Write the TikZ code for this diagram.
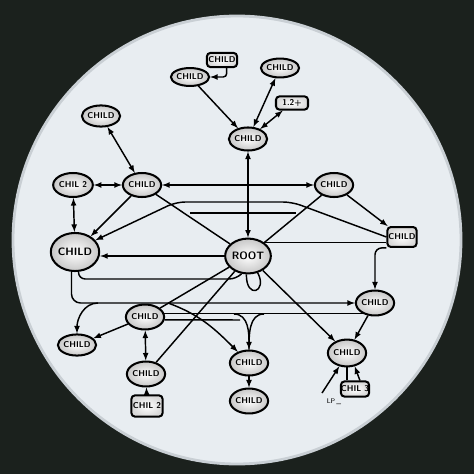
\documentclass[tikz,border=0pt]{standalone}
\usetikzlibrary{shapes.geometric}
\usetikzlibrary{arrows}
\pgfdeclarelayer{background}
\pgfdeclarelayer{edgelayer}
\pgfdeclarelayer{nodelayer}
\pgfsetlayers{background,edgelayer,nodelayer,main}
\definecolor{backdrop}{HTML}{1B211D}
\definecolor{plate}{HTML}{E8EDF1}
\definecolor{platerim}{HTML}{C9CFD4}
\newcommand{\childfont}{\fontsize{7.5}{9}\sffamily\bfseries}
\newcommand{\rootfont}{\fontsize{9.5}{11}\sffamily\bfseries}
\tikzstyle{none}=[inner sep=0pt]
\tikzstyle{state}=[ellipse,draw=black,line width=1.8pt,inner color=white,outer color=black!22,inner sep=0pt,minimum width=1.09cm,minimum height=0.78cm,font=\childfont]
\tikzstyle{rootstate}=[state,minimum width=1.34cm,minimum height=1.09cm,font=\rootfont]
\tikzstyle{box}=[rectangle,rounded corners=3pt,draw=black,line width=1.8pt,inner color=white,outer color=black!15,inner sep=0pt,minimum width=0.94cm,minimum height=0.5cm,font=\childfont]
\tikzstyle{transition}=[-latex,draw=black,line width=1.3pt]
\tikzstyle{twoway}=[latex-latex,draw=black,line width=1.3pt]
\tikzstyle{simple}=[-,draw=black,line width=1.3pt]
\begin{document}
\begin{tikzpicture}[x=0.03125cm,y=-0.03125cm]
	\begin{pgfonlayer}{background}
		\fill [backdrop] (0,0) rectangle (474,474);
		\filldraw [fill=plate,draw=platerim,line width=2.5pt] (237,240) circle (224);
	\end{pgfonlayer}
	\begin{pgfonlayer}{nodelayer}
		\node [style=rootstate] (0) at (248,256) {ROOT};
		\node [style=state,minimum width=0.94cm,minimum height=0.72cm] (1) at (248,139) {CHILD};
		\node [style=state,minimum height=0.56cm] (2) at (190,77) {CHILD};
		\node [style=box,minimum height=0.44cm] (3) at (222,60) {CHILD};
		\node [style=state,minimum width=0.84cm,minimum height=0.59cm] (4) at (280,68) {CHILD};
		\node [style=box,minimum width=1cm,minimum height=0.41cm] (5) at (292,103) {1.2+};
		\node [style=state,minimum width=1.06cm,minimum height=0.66cm] (6) at (101,116) {CHILD};
		\node [style=state,minimum width=1.16cm,minimum height=0.75cm] (7) at (73,185) {CHIL 2};
		\node [style=state,minimum width=0.97cm,minimum height=0.75cm] (8) at (142,185) {CHILD};
		\node [style=state,minimum height=0.75cm] (9) at (334,185) {CHILD};
		\node [style=rootstate,minimum width=1.37cm,minimum height=1.19cm] (10) at (75,252) {CHILD};
		\node [style=box,minimum width=0.91cm,minimum height=0.62cm] (11) at (402,237) {CHILD};
		\node [style=state] (12) at (375,303) {CHILD};
		\node [style=state,minimum width=1cm,minimum height=0.66cm] (13) at (77,345) {CHILD};
		\node [style=state] (14) at (145,317) {CHILD};
		\node [style=state] (15) at (146,374) {CHILD};
		\node [style=box,minimum width=0.97cm,minimum height=0.66cm] (16) at (147,406) {CHIL 2};
		\node [style=state,minimum width=1.06cm] (17) at (249,363) {CHILD};
		\node [style=state,minimum width=1.03cm] (18) at (249,401) {CHILD};
		\node [style=state,minimum height=0.84cm] (19) at (347,353) {CHILD};
		\node [style=box,minimum width=0.875cm,minimum height=0.47cm] (20) at (355,389) {CHIL 3};
		\node [style=none,font=\fontsize{6}{7}\sffamily] (21) at (334,402) {LP\,\_};
		\node [style=none] (22) at (292,202) {};
		\node [style=none] (23) at (176,202) {};
		\node [style=none] (24) at (190,213) {};
		\node [style=none] (25) at (296,213) {};
		\node [style=none] (26) at (236,279) {};
		\node [style=none] (27) at (98,303) {};
		\node [style=none] (28) at (168,303) {};
		\node [style=none] (29) at (234,314) {};
		\node [style=none] (30) at (264,314) {};
		\node [style=none] (31) at (240,320) {};
		\node [style=none] (32) at (322,393) {};
	\end{pgfonlayer}
	\begin{pgfonlayer}{edgelayer}
		% top cluster
		\draw [style=transition] (2) to (1);
		\draw [style=transition,rounded corners=3pt] (3.-60) |- (2.east);
		\draw [style=twoway] (4) to (1);
		\draw [style=twoway] (5) to (1);
		\draw [style=twoway] (1) to (0);
		% left side
		\draw [style=twoway] (6) to (8);
		\draw [style=twoway] (7) to (8);
		\draw [style=twoway] (7) to (10);
		\draw [style=transition] (8) to (10);
		\draw [style=twoway] (8) to (9);
		\draw [style=simple] (8) to (0);
		\draw [style=simple] (9) to (0);
		\draw [style=transition] (9) to (11);
		\draw [style=simple] (0.40) to (0.40 -| 11.west);
		\draw [style=transition] (0.west) to (0.west -| 10.east);
		\draw [style=transition,rounded corners=8pt] (11.west) -- (22.center) -- (23.center) -- (10.30);
		\draw [style=simple] (24.center) to (25.center);
		% loops under the root
		\draw [style=simple,rounded corners=6pt] (10.-80) |- (26.center) -- (0.-110);
		\draw [style=simple] (0.-95) .. controls (246,300) and (268,292) .. (0.-60);
		\draw [style=transition,rounded corners=8pt] (10.-100) |- (12.west);
		\draw [style=transition] (27.center) to [out=180,in=90] (13.north);
		\draw [style=transition] (28.center) to [out=-20,in=135] (17.135);
		\draw [style=simple] (14.10) to (14.10 -| 12.center);
		\draw [style=transition] (29.center) to [out=0,in=90] (17.north);
		\draw [style=simple] (30.center) to [out=180,in=90] (17.north);
		\draw [style=simple] (14.-8) to (31.center);
		% lower part
		\draw [style=simple] (0) to (14);
		\draw [style=simple] (0) to (15);
		\draw [style=transition] (0) to (19);
		\draw [style=transition,rounded corners=6pt] (11.south west) -| (12.north);
		\draw [style=transition] (12) to (19);
		\draw [style=transition] (14) to (13);
		\draw [style=twoway] (14) to (15);
		\draw [style=transition] (16) to (15);
		\draw [style=transition] (17) to (18);
		\draw [style=transition] (32.center) to (19.-120);
		\draw [style=simple] (19.south |- 20.north) to (19.south);
		\draw [style=transition] (20.60) to (19.-60);
	\end{pgfonlayer}
\end{tikzpicture}
\end{document}
